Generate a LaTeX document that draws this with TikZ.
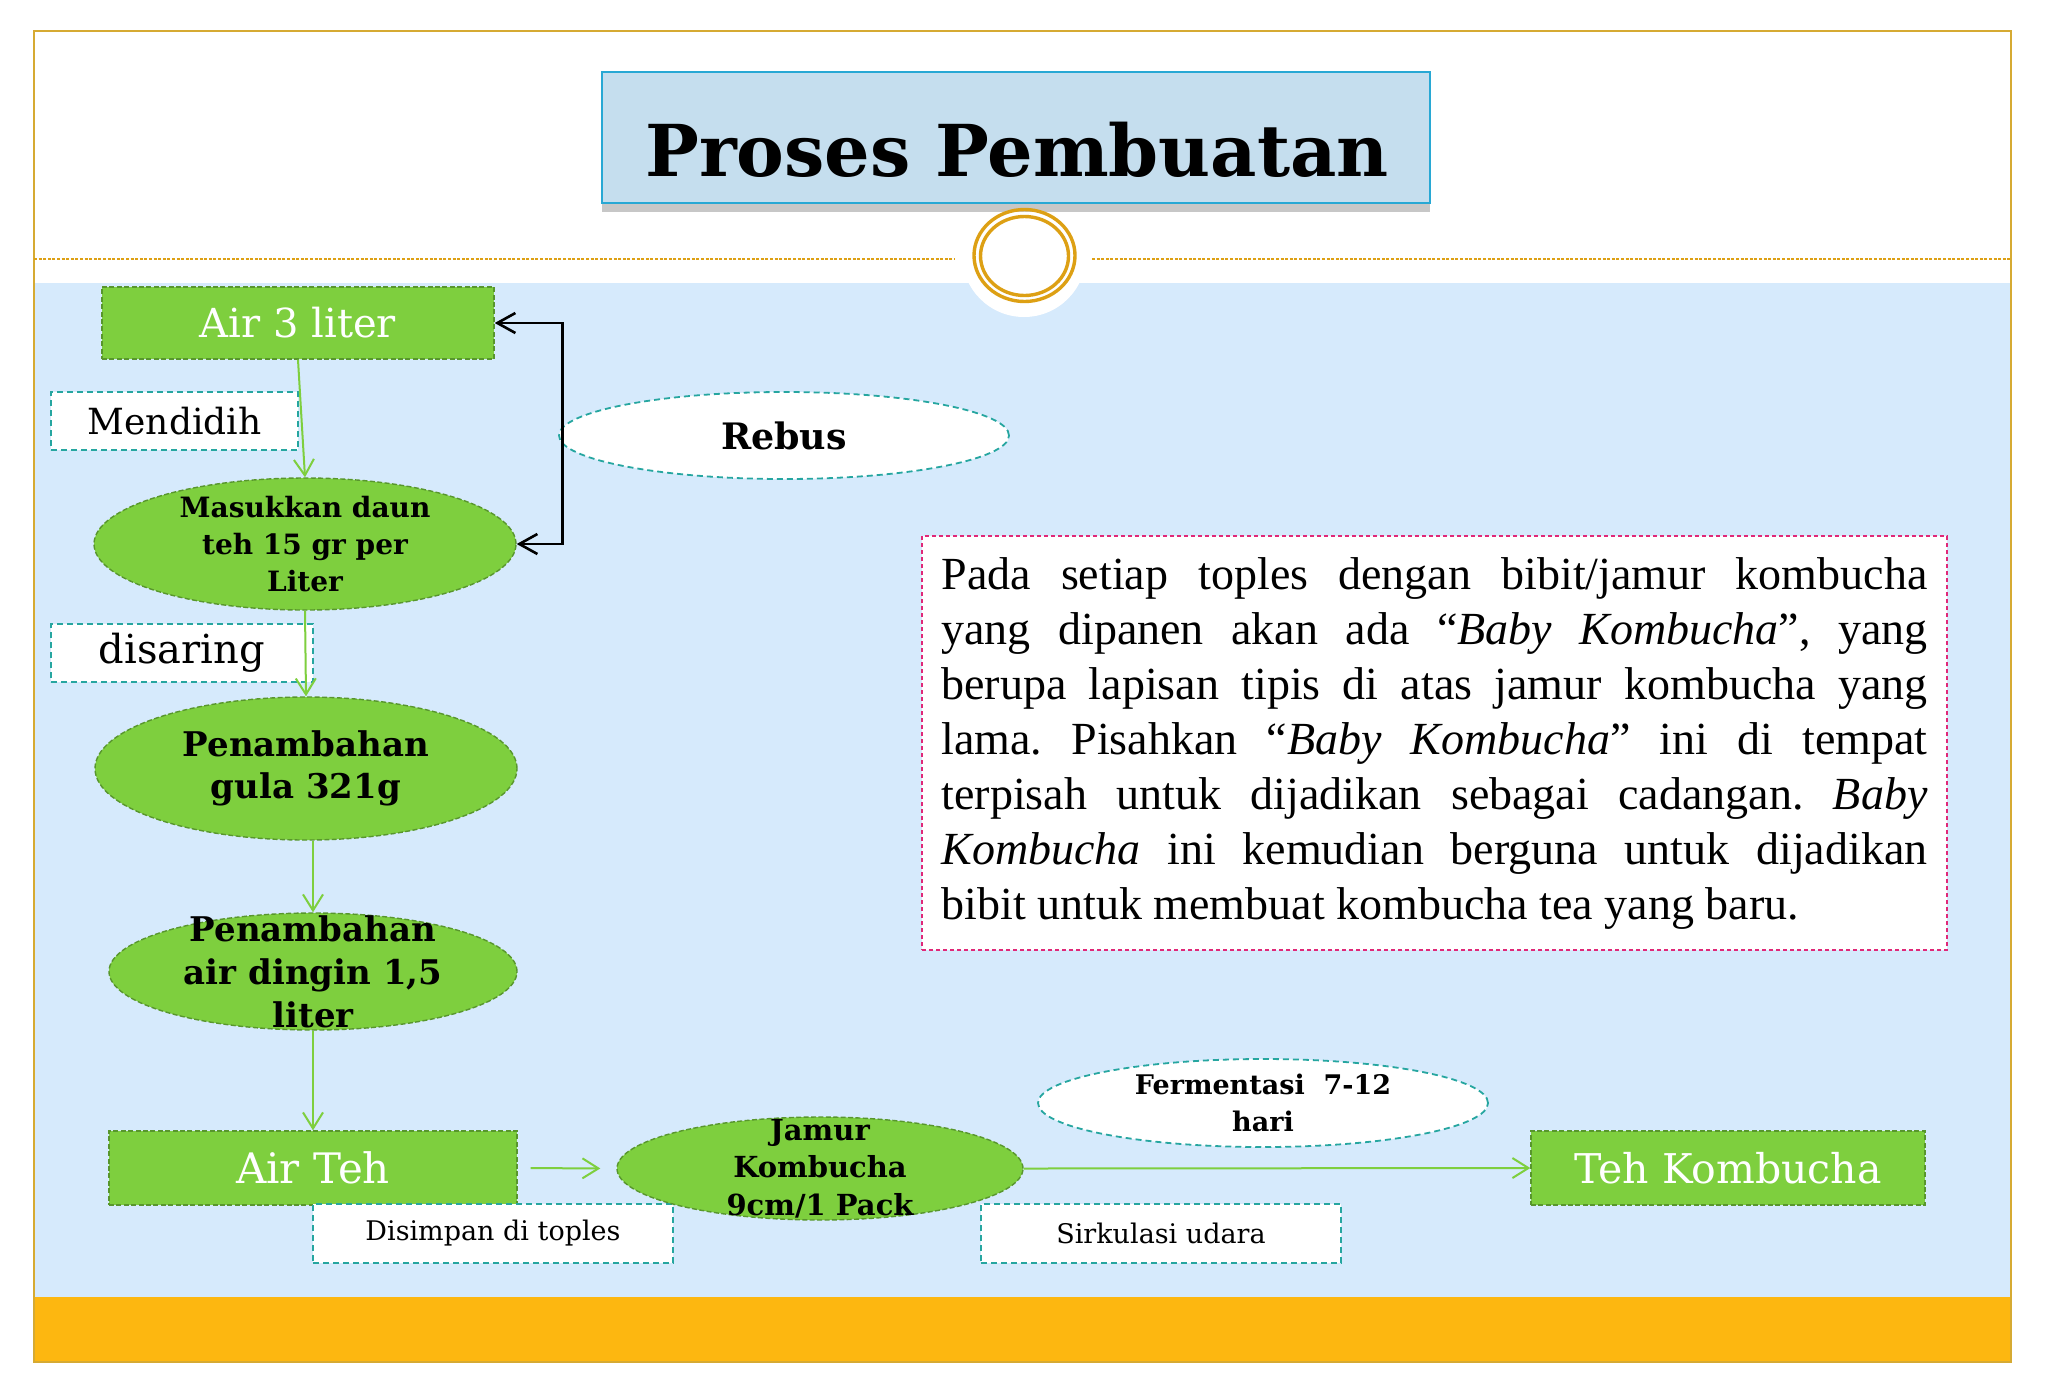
\documentclass[tikz,border=0pt]{standalone}
\usepackage{fontspec}
\setmainfont{Liberation Serif}
\newfontfamily\shapefont{DejaVu Serif}
\usetikzlibrary{arrows.meta,positioning,shapes.geometric,shadows}
\definecolor{leafGreen}{RGB}{126,207,62}
\definecolor{leafEdge}{RGB}{88,150,45}
\definecolor{skyFill}{RGB}{214,234,252}
\definecolor{footGold}{RGB}{253,183,16}
\definecolor{frameGold}{RGB}{214,170,50}
\definecolor{ringGold}{RGB}{221,160,20}
\definecolor{titleFill}{RGB}{197,222,238}
\definecolor{titleEdge}{RGB}{40,168,212}
\definecolor{tealLine}{RGB}{38,166,160}
\definecolor{pinkLine}{RGB}{224,40,120}
\newcommand\fsz[2]{\fontsize{#1}{#2}\selectfont}
\frenchspacing
\tikzset{
  greenBox/.style={draw=leafEdge, line width=0.7pt, dash pattern=on 2.5pt off 1.2pt,
    fill=leafGreen, text=white, inner sep=0pt, font=\shapefont\fsz{20}{24}},
  tealBox/.style={draw=tealLine, line width=0.9pt, dash pattern=on 3pt off 2pt,
    fill=white, inner sep=0pt},
  greenEll/.style={ellipse, draw=leafEdge, line width=0.7pt, dash pattern=on 2.5pt off 1.2pt,
    fill=leafGreen, inner sep=0pt},
  tealEll/.style={ellipse, draw=tealLine, line width=0.9pt, dash pattern=on 3pt off 2pt,
    fill=white, inner sep=0pt},
  ellText/.style={align=center, inner sep=0pt, text=black},
  noteBox/.style={draw=pinkLine, line width=0.9pt, dash pattern=on 2pt off 1.5pt,
    fill=white, inner xsep=9.75pt, align=justify, font=\fsz{23}{27.5}},
  greenArrow/.style={-{Straight Barb[length=8pt,width=10pt]}, line width=1pt, draw=leafGreen},
  blackArrow/.style={{Straight Barb[length=9pt,width=10pt]}-{Straight Barb[length=9pt,width=10pt]},
    line width=1.3pt, draw=black}
}

\begin{document}
\begin{tikzpicture}[x=0.5pt,y=-0.5pt]

% Background
\useasboundingbox (0,0) rectangle (2048,1393);
\fill[white] (0,0) rectangle (2048,1393);
\fill[skyFill] (34,283) rectangle (2011,1297);
\fill[footGold] (34,1297) rectangle (2011,1362);
\draw[frameGold, line width=0.6pt] (34,31) rectangle (2011,1362);
\draw[frameGold, line width=1.2pt] (34,31) -- (2011,31);
\fill[white] (1024,255) circle[radius=62];
\draw[ringGold, line width=0.9pt, dash pattern=on 1.5pt off 0.8pt] (34,259) -- (955,259);
\draw[ringGold, line width=0.9pt, dash pattern=on 1.5pt off 0.8pt] (1092,259) -- (2011,259);

% Title
\node[draw=titleEdge, line width=0.8pt, fill=titleFill, minimum width=414pt, minimum height=65.5pt,
  drop shadow={shadow xshift=0pt, shadow yshift=-4.5pt, opacity=0.22, fill=black}] (titleBox) at (1016,137.5) {};
\node[anchor=base, font=\shapefont\bfseries\fsz{35.8}{40}] (title) at (1017,176) {Proses Pembuatan};
\draw[ringGold, line width=1.7pt] (1024.5,255.5) ellipse[x radius=50.5, y radius=46];
\draw[ringGold, line width=1.7pt] (1024.5,256) ellipse[x radius=44, y radius=39.5];

% Left column
\node[greenBox, minimum width=196pt, minimum height=36pt] (airBox) at (298,323) {Air 3 liter};
\node[tealBox, minimum width=123.5pt, minimum height=29pt, font=\shapefont\fsz{18}{22}] (mendidih) at (174.5,421) {Mendidih};
\node[greenEll, minimum width=211pt, minimum height=66pt] (masukkan) at (305,544) {};
\node[ellText, font=\shapefont\bfseries\fsz{14}{18.5}] (masukkanText) at (masukkan) {Masukkan daun\\teh 15 gr per\\Liter};
\node[tealEll, minimum width=225pt, minimum height=43.5pt, font=\shapefont\bfseries\fsz{18.2}{22}] (rebus) at (784,435.5) {Rebus};
\node[tealBox, minimum width=131pt, minimum height=29pt, font=\shapefont\fsz{20}{24}] (disaring) at (182,653) {disaring};
\node[greenEll, minimum width=211pt, minimum height=71.5pt] (gula) at (306,768.5) {};
\node[ellText, font=\shapefont\bfseries\fsz{17}{21}] (gulaText) at (gula) {Penambahan\\gula 321g};
\node[greenEll, minimum width=204pt, minimum height=58.5pt] (airDingin) at (313,971.5) {};
\node[ellText, font=\shapefont\bfseries\fsz{17}{21.5}] (airDinginText) at (airDingin) {Penambahan\\air dingin 1,5\\liter};

% Bottom row
\node[greenBox, minimum width=204pt, minimum height=37pt, font=\shapefont\fsz{21}{24}] (airTeh) at (313,1168) {Air Teh};
\node[tealBox, minimum width=180pt, minimum height=29.5pt, font=\shapefont\fsz{13.5}{16}] (disimpan) at (493,1233.5) {Disimpan di toples};
\node[greenEll, minimum width=203pt, minimum height=51.5pt] (jamur) at (820,1168.5) {};
\node[ellText, font=\shapefont\bfseries\fsz{14.5}{18.75}] (jamurText) at (jamur) {Jamur\\Kombucha\\9cm/1 Pack};
\node[tealEll, minimum width=225pt, minimum height=44pt] (fermentasi) at (1263,1103) {};
\node[ellText, font=\shapefont\bfseries\fsz{13.5}{18.5}] (fermentasiText) at (fermentasi) {Fermentasi~ 7-12\\hari};
\node[tealBox, minimum width=180pt, minimum height=29.5pt, font=\shapefont\fsz{13.5}{16}] (sirkulasi) at (1161,1233.5) {Sirkulasi udara};
\node[greenBox, minimum width=197pt, minimum height=37pt, font=\shapefont\fsz{20.5}{24}] (tehKombucha) at (1728,1168) {Teh Kombucha};

% Note
\node[noteBox, text width=493pt, minimum height=207pt] (note) at (1434.5,743)
  {Pada setiap toples dengan bibit/jamur kombucha\linebreak
   yang dipanen akan ada “\textit{Baby Kombucha}”, yang\linebreak
   berupa lapisan tipis di atas jamur kombucha yang\linebreak
   lama. Pisahkan “\textit{Baby Kombucha}” ini di tempat\linebreak
   terpisah untuk dijadikan sebagai cadangan. \textit{Baby}\linebreak
   \textit{Kombucha} ini kemudian berguna untuk dijadikan\linebreak
   bibit untuk membuat kombucha tea yang baru.};

% Connectors
\draw[blackArrow] (airBox.east) -- ++(68,0) |- (masukkan.east);
\draw[greenArrow] (airBox.south) -- (masukkan.north);
\draw[greenArrow] (masukkan.south) -- (gula.north);
\draw[greenArrow] (airDingin.north |- gula.south) -- (airDingin.north);
\draw[greenArrow] (airDingin.south) -- (airTeh.north);
\draw[greenArrow, shorten <=6.5pt, shorten >=8pt] (airTeh.east) -- (jamur.west);
\draw[greenArrow] (jamur.east) -- (tehKombucha.west);

\end{tikzpicture}
\end{document}
